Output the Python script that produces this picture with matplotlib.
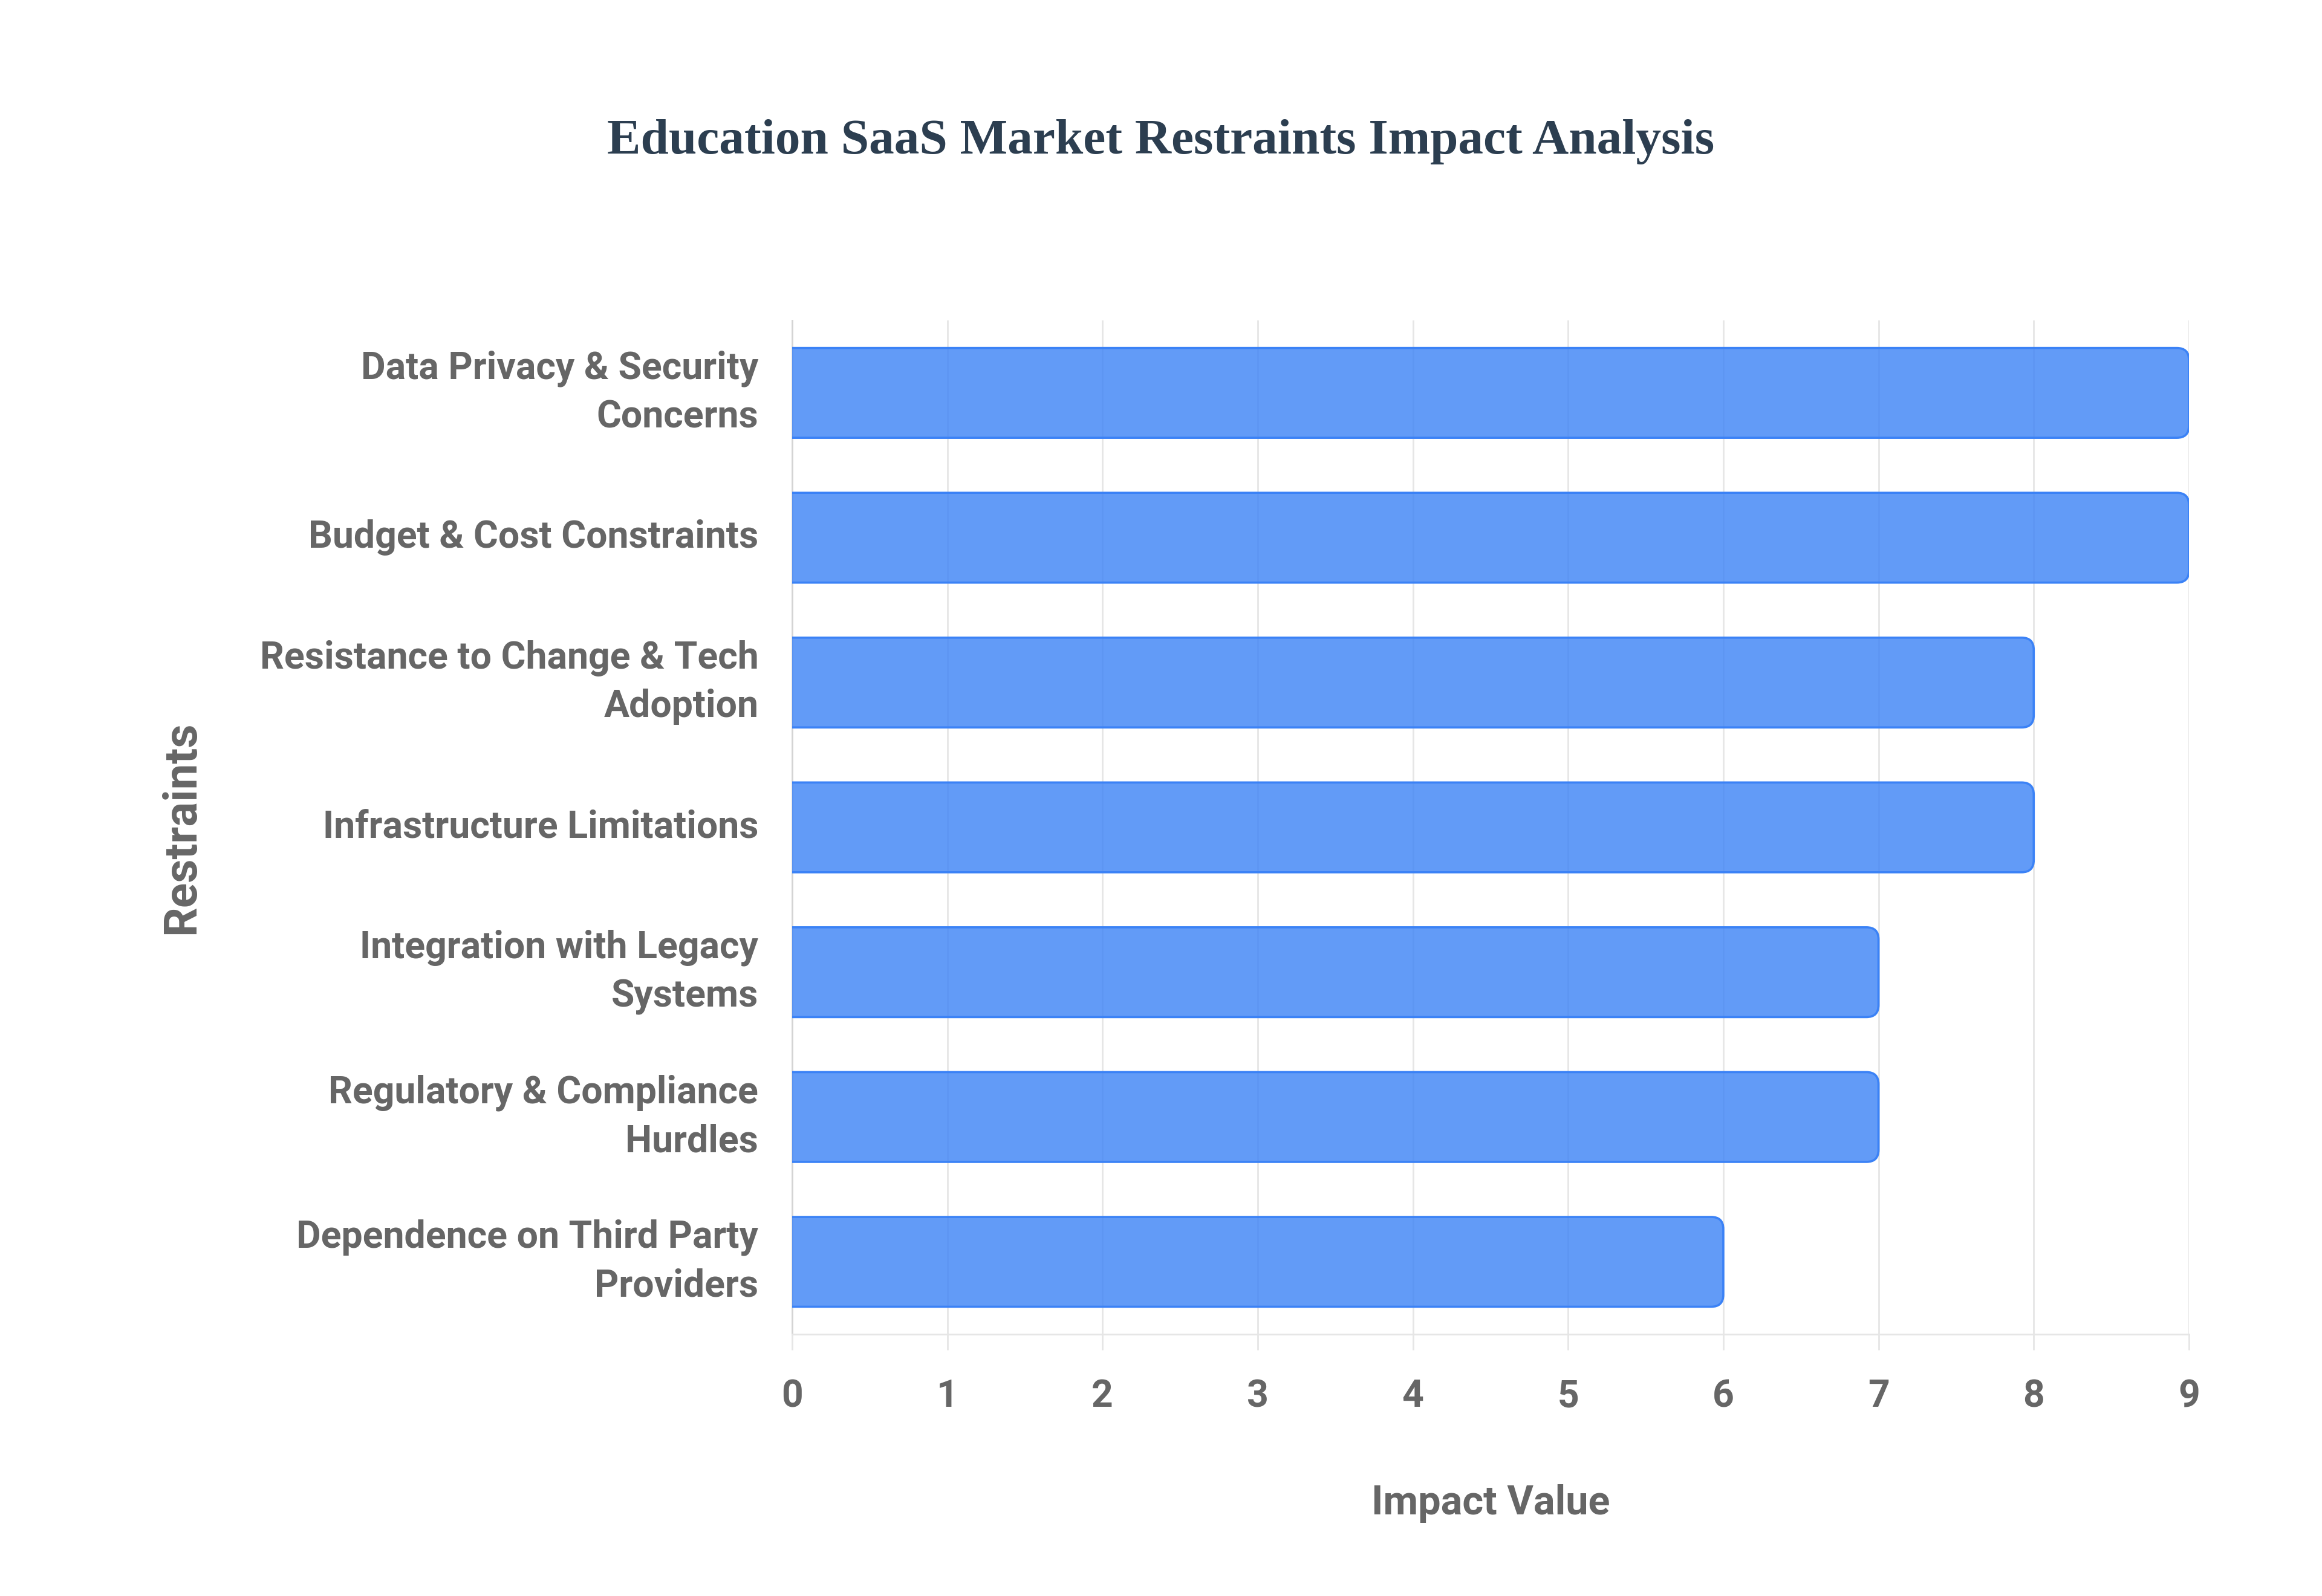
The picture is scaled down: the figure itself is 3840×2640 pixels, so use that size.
import matplotlib
matplotlib.use("Agg")
import matplotlib.pyplot as plt
from matplotlib.patches import FancyBboxPatch
import numpy as np

categories = [
    "Data Privacy & Security\nConcerns",
    "Budget & Cost Constraints",
    "Resistance to Change & Tech\nAdoption",
    "Infrastructure Limitations",
    "Integration with Legacy\nSystems",
    "Regulatory & Compliance\nHurdles",
    "Dependence on Third Party\nProviders",
]
values = [9, 9, 8, 8, 7, 7, 6]
x_ticks = [0, 1, 2, 3, 4, 5, 6, 7, 8, 9]

title = "Education SaaS Market Restraints Impact Analysis"
xlabel = "Impact Value"
ylabel = "Restraints"

plt.rcParams['font.family'] = ['Roboto', 'Liberation Sans', 'DejaVu Sans']

fig = plt.figure(figsize=(19.2, 13.2), dpi=200)
ax = fig.add_axes([0.3411, 0.164, 0.6016, 0.6352])

grey = "#666666"
grid_c = "#e6e6e6"
bar_rgb = (59 / 255, 130 / 255, 246 / 255)

ypos = np.arange(len(categories))
bars = ax.barh(ypos, values, height=0.62, color=bar_rgb, zorder=2)

# rounded right ends (plotly cornerradius look)
r = 0.078
asp = 1.07
for rect in bars:
    x0, y0 = rect.get_xy()
    w, h = rect.get_width(), rect.get_height()
    fb = FancyBboxPatch((x0 - r, y0), w + r, h,
                        boxstyle=f"round,pad=0,rounding_size={r}",
                        mutation_aspect=asp,
                        facecolor=(*bar_rgb, 0.8), edgecolor=bar_rgb,
                        linewidth=1.3, zorder=3)
    ax.add_patch(fb)
    rect.set_visible(False)

ax.set_xlim(0, 9)
ax.set_ylim(len(categories) - 0.5, -0.5)
ax.set_xticks(x_ticks)
ax.set_xticklabels([str(t) for t in x_ticks])
ax.set_yticks(ypos)
ax.set_yticklabels(categories, linespacing=1.43, ha="right", va="center")

ax.grid(axis="x", color=grid_c, linewidth=1.0, zorder=0)
ax.grid(axis="y", visible=False)
ax.set_axisbelow(True)

for s in ["top", "right"]:
    ax.spines[s].set_visible(False)
ax.spines["left"].set_color("#d4d4d4")
ax.spines["left"].set_linewidth(1.0)
ax.spines["bottom"].set_color(grid_c)
ax.spines["bottom"].set_linewidth(1.0)

ax.tick_params(axis="x", length=9.4, width=1.0, color=grid_c, pad=17,
               labelsize=22.5, labelcolor=grey)
ax.tick_params(axis="y", length=0, pad=20, labelsize=22.5, labelcolor=grey)
for lab in ax.get_xticklabels() + ax.get_yticklabels():
    lab.set_fontweight("bold")

ax.set_xlabel(xlabel, fontsize=24, fontweight="bold", color=grey)
ax.xaxis.set_label_coords(0.5, -0.167)
ax.xaxis.label.set_va("center")
ax.set_ylabel(ylabel, fontsize=27.5, fontweight="bold", color=grey)
ax.yaxis.set_label_coords(-0.437, 0.5)
ax.yaxis.label.set_va("center")

fig.text(0.5, 0.911, title, ha="center", va="center",
         fontsize=30, fontweight="bold", color="#2c3e50",
         family=["Liberation Serif", "DejaVu Serif"])

fig.savefig("out.png", dpi=200, facecolor="white")
